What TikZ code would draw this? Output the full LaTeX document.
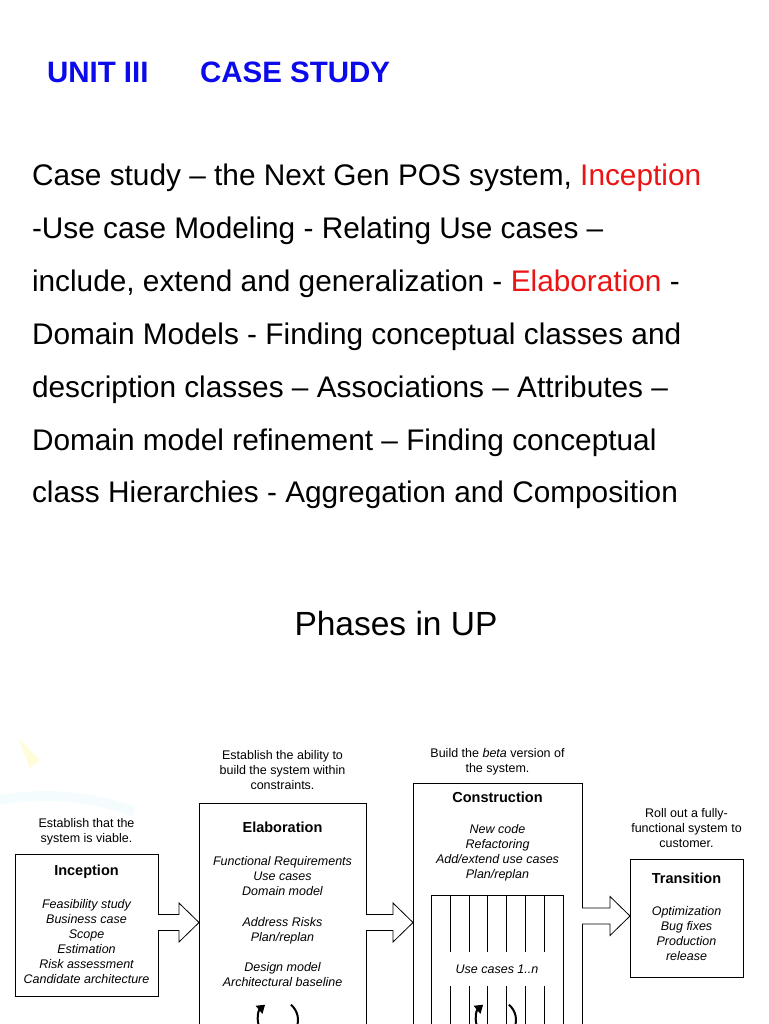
\documentclass[tikz,border=0pt]{standalone}
\usepackage{fontspec}
\setmainfont{Liberation Sans}
\usetikzlibrary{arrows.meta,calc}
\definecolor{unitblue}{RGB}{10,10,235}
\definecolor{phasered}{RGB}{235,20,20}
% hollow block arrow between two named coordinates on one row
\newcommand{\hollowarrow}[2]{%
 \draw[hollow] ($(#1)+(0,8)$) -- ($(#2)+(-20,8)$) -- ($(#2)+(-20,19.5)$) -- (#2)
  -- ($(#2)+(-20,-19.5)$) -- ($(#2)+(-20,-8)$) -- ($(#1)+(0,-8)$);}

\begin{document}
\begin{tikzpicture}[x=1pt,y=1pt,every node/.style={inner sep=0pt,outer sep=0pt},
 head/.style={anchor=base west,text=unitblue,font=\bfseries\fontsize{29.5}{35}\selectfont},
 para/.style={anchor=base west,font=\fontsize{29.8}{35}\selectfont},
 phase/.style={draw,line width=0.9pt,anchor=north west},
 title/.style={anchor=base,font=\bfseries\fontsize{14.5}{15}\selectfont},
 items/.style={anchor=base,align=center,font=\itshape\fontsize{12.5}{15}\selectfont},
 goal/.style={anchor=base,align=center,font=\fontsize{12.5}{15}\selectfont},
 hollow/.style={draw,fill=white,line width=0.8pt,line join=miter},
 cyc/.style={line width=2pt,-{Triangle[length=8pt,width=10pt]}}]
\useasboundingbox (0,0) rectangle (768,-1024);
\clip (0,0) rectangle (768,-1024);

% faint slide background
\fill[yellow!15] (18,-738) -- (40,-760) -- (30,-768) -- cycle;
\draw[cyan!4,line width=10pt] (0,-800) arc[start angle=100,end angle=70,radius=260];

% heading and text
\node[head] (unit) at (47,-83) {UNIT III};
\node[head] (cstudy) at (200,-83) {CASE STUDY};
\foreach \txt [count=\i] in {%
 {Case study – the Next Gen POS system, \textcolor{phasered}{Inception}},
 {-Use case Modeling - Relating Use cases –},
 {include, extend and generalization - \textcolor{phasered}{Elaboration} -},
 {Domain Models - Finding conceptual classes and},
 {description classes – Associations – Attributes –},
 {Domain model refinement – Finding conceptual},
 {class Hierarchies - Aggregation and Composition}}
 \node[para] (l\i) at (32,{-186-(\i-1)*52.8}) {\txt};
\node[anchor=base,font=\fontsize{33.5}{36}\selectfont] (upphases) at (396,-635) {Phases in UP};

% phase boxes
\node[phase,minimum width=143pt,minimum height=142pt] (inc) at (15,-854) {};
\node[phase,minimum width=167pt,minimum height=300pt] (ela) at (199,-803) {};
\node[phase,minimum width=169pt,minimum height=300pt] (cons) at (413,-783) {};
\node[phase,minimum width=113pt,minimum height=118pt] (trans) at (630,-859) {};
\node[phase,minimum width=132pt,minimum height=200pt] (ucbox) at (431,-895) {};

\node[title] (inc-t) at ([yshift=-21pt]inc.north) {Inception};
\node[title] (ela-t) at ([yshift=-29pt]ela.north) {Elaboration};
\node[title] (cons-t) at ([yshift=-19pt]cons.north) {Construction};
\node[title] (trans-t) at ([yshift=-24pt]trans.north) {Transition};

% multi-line texts sit on the baseline of their last line
\node[items] (inc-i) at ([yshift=-129pt]inc.north) {Feasibility study\\Business case\\Scope\\Estimation\\Risk assessment\\Candidate architecture};
\node[items] (ela-i) at ([yshift=-183pt]ela.north) {Functional Requirements\\Use cases\\Domain model\\[16pt]Address Risks\\Plan/replan\\[15pt]Design model\\Architectural baseline};
\node[items] (cons-i) at ([yshift=-95pt]cons.north) {New code\\Refactoring\\Add/extend use cases\\Plan/replan};
\node[items] (trans-i) at ([yshift=-101pt]trans.north) {Optimization\\Bug fixes\\Production\\release};

\node[goal] (inc-g) at ([yshift=12pt]inc.north) {Establish that the\\system is viable.};
\node[goal] (ela-g) at ([yshift=14pt]ela.north) {Establish the ability to\\build the system within\\constraints.};
\node[goal] (cons-g) at ([yshift=11pt]cons.north) {Build the \textit{beta} version of\\the system.};
\node[goal] (trans-g) at ([yshift=12pt]trans.north) {Roll out a fully-\\functional system to\\customer.};

% use case columns
\node[items] (ucn) at (497,-973) {Use cases 1..n};
\foreach \x in {450,469,487,506,525,544} {
 \draw[line width=0.9pt] (\x,-895) -- (\x,-952);
 \draw[line width=0.9pt] (\x,-986) -- (\x,-1030);
}

% iteration cycles
\foreach \c/\cx in {ecyc/278,ccyc/496} {
 \coordinate (\c) at (\cx,-1020);
 \draw[cyc] ([shift={(205:20)}]\c) arc[start angle=205,end angle=130,radius=20];
 \draw[line width=2pt] ([shift={(50:20)}]\c) arc[start angle=50,end angle=-25,radius=20];
}

% block arrows between phases
\coordinate (row) at (0,-922.5);
\coordinate (rowt) at (0,-916);
\hollowarrow{inc.east |- row}{ela.west |- row}
\hollowarrow{ela.east |- row}{cons.west |- row}
\hollowarrow{cons.east |- rowt}{trans.west |- rowt}
\end{tikzpicture}
\end{document}
